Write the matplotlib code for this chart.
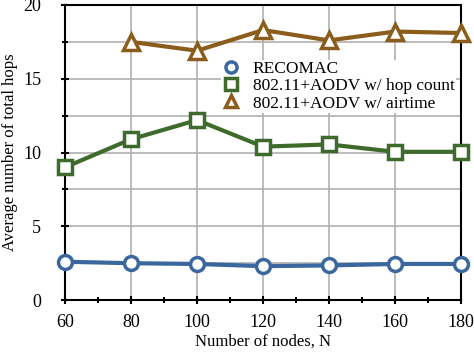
import matplotlib
matplotlib.use("Agg")
import matplotlib.pyplot as plt
from matplotlib.ticker import MultipleLocator

nodes = [60, 80, 100, 120, 140, 160, 180]
recomac = [2.6, 2.5, 2.45, 2.3, 2.35, 2.45, 2.45]
hop_nodes = [60, 80, 100, 120, 140, 160, 180]
hop_count = [9.0, 10.9, 12.2, 10.4, 10.55, 10.05, 10.05]
air_nodes = [80, 100, 120, 140, 160, 180]
airtime = [17.5, 16.9, 18.3, 17.6, 18.2, 18.1]

plt.rcParams['font.family'] = ['Liberation Serif', 'DejaVu Serif']

fig = plt.figure(figsize=(4.74, 3.56), dpi=100)
ax = fig.add_axes([0.137, 0.157, 0.836, 0.829])

c_blue = '#3a679e'
c_green = '#3e6a2c'
c_brown = '#8a5d1c'

ax.plot(nodes, recomac, color=c_blue, lw=3, marker='o', ms=10, mfc='white', mec=c_blue, mew=2.5,
        label='RECOMAC', zorder=3, clip_on=False)
ax.plot(hop_nodes, hop_count, color=c_green, lw=3, marker='s', ms=10, mfc='white', mec=c_green, mew=2.5,
        label='802.11+AODV w/ hop count', zorder=3, clip_on=False)
ax.plot(air_nodes, airtime, color=c_brown, lw=3, marker='^', ms=11, mfc='white', mec=c_brown, mew=2.5,
        label='802.11+AODV w/ airtime', zorder=3, clip_on=False)

ax.set_xlim(60, 180)
ax.set_ylim(0, 20)
ax.xaxis.set_major_locator(MultipleLocator(20))
ax.xaxis.set_minor_locator(MultipleLocator(10))
ax.yaxis.set_major_locator(MultipleLocator(5))
ax.yaxis.set_minor_locator(MultipleLocator(2.5))
ax.grid(True, which='major', axis='x', color='#b0b0b0', lw=1.2)
ax.grid(True, which='both', axis='y', color='#b0b0b0', lw=1.2)
ax.set_axisbelow(True)
ax.tick_params(which='major', direction='inout', length=6, width=1.5, labelsize=13)
ax.tick_params(which='minor', direction='inout', length=4, width=1.5)
ax.tick_params(axis='x', which='major', pad=7)
ax.tick_params(axis='y', which='major', pad=14)
for s in ax.spines.values():
    s.set_linewidth(1.5)
    s.set_color('black')

ax.set_xlabel('Number of nodes, N', fontsize=12, labelpad=2)
ax.set_ylabel('Average number of total hops', fontsize=12, labelpad=4)

leg = ax.legend(loc='upper left', bbox_to_anchor=(0.395, 0.815), frameon=True, fontsize=12.5,
                handlelength=0.9, handletextpad=0.8, borderpad=0.1, labelspacing=0.05,
                borderaxespad=0)
leg.get_frame().set_edgecolor('none')
leg.get_frame().set_facecolor('white')
leg.get_frame().set_alpha(1)
for h in leg.legend_handles:
    h.set_linewidth(0)
    h.set_markersize(8)

fig.savefig('out.png', dpi=100)
